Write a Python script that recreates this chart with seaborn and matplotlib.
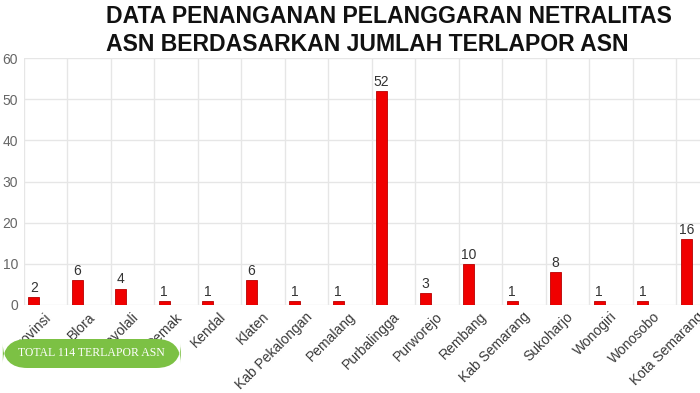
import matplotlib
matplotlib.use("Agg")
import matplotlib.pyplot as plt
import matplotlib.transforms as mtransforms
import seaborn as sns
import pandas as pd
from matplotlib.patches import FancyBboxPatch
from matplotlib.ticker import MultipleLocator

categories = ["Provinsi", "Blora", "Boyolali", "Demak", "Kendal", "Klaten",
              "Kab Pekalongan", "Pemalang", "Purbalingga", "Purworejo", "Rembang",
              "Kab Semarang", "Sukoharjo", "Wonogiri", "Wonosobo", "Kota Semarang"]
values = [2, 6, 4, 1, 1, 6, 1, 1, 52, 3, 10, 1, 8, 1, 1, 16]
title = "DATA PENANGANAN PELANGGARAN NETRALITAS\nASN BERDASARKAN JUMLAH TERLAPOR ASN"
badge = "TOTAL 114 TERLAPOR ASN"

sns.set_style("white")
plt.rcParams['font.family'] = ['Liberation Sans', 'DejaVu Sans']

W, H = 700, 393
fig = plt.figure(figsize=(W / 100, H / 100), dpi=100)
left, right, bottom, top = 23.5, 23.5 + 16 * 43.5, 305, 58
ax = fig.add_axes([left / W, 1 - bottom / H, (right - left) / W, (bottom - top) / H])

df = pd.DataFrame({"cat": categories, "val": values})
sns.barplot(data=df, x="cat", y="val", ax=ax, color="#f00000", saturation=1,
            edgecolor="#b80000", linewidth=0.6, width=0.25)

for p in ax.patches:
    w = 0.25
    cx = p.get_x() + p.get_width() / 2 - 0.265
    p.set_x(cx - w / 2)
    p.set_width(w)

ax.bar_label(ax.containers[0], fontsize=10, color="#333333", padding=1.5)

ax.set_xlim(-0.5, 15.5)
ax.set_ylim(0, 60)
ax.yaxis.set_major_locator(MultipleLocator(10))
ax.set_xticks(range(len(categories)))
ax.set_xticks([i + 0.5 for i in range(-1, 16)], minor=True)
ax.set_xticklabels(categories, rotation=45, ha="right", va="center",
                   rotation_mode="anchor", fontsize=10, color="#3a3a3a")
ax.tick_params(axis="x", which="major", length=0, pad=7)
ax.tick_params(axis="x", which="minor", length=0)
ax.tick_params(axis="y", length=0, pad=4, labelsize=10, labelcolor="#666666")
ax.grid(axis="y", which="major", color="#e6e6e6", linewidth=1)
ax.grid(axis="x", which="minor", color="#e6e6e6", linewidth=1)
ax.set_axisbelow(True)
for s in ax.spines.values():
    s.set_visible(False)
ax.set_xlabel("")
ax.set_ylabel("")

offset = mtransforms.ScaledTranslation(4 / 100, 0, fig.dpi_scale_trans)
for lbl in ax.get_xticklabels():
    lbl.set_transform(lbl.get_transform() + offset)

fig.text(106 / W, 1 - 5 / H, title, ha="left", va="top", fontsize=16.6,
         fontweight="bold", color="#111111", linespacing=1.3)

box = FancyBboxPatch((0.004, 1 - 368 / H), 178 / W, 29 / H,
                     boxstyle="round,pad=0,rounding_size=0.035",
                     transform=fig.transFigure, facecolor="#7cc144",
                     edgecolor="none", mutation_aspect=W / H, zorder=5)
fig.patches.append(box)
fig.text(91 / W, 1 - 353 / H, badge, ha="center", va="center", fontsize=8.5,
         color="white", family=["Liberation Serif", "DejaVu Serif"], zorder=6)

fig.savefig("out.png", dpi=100)
